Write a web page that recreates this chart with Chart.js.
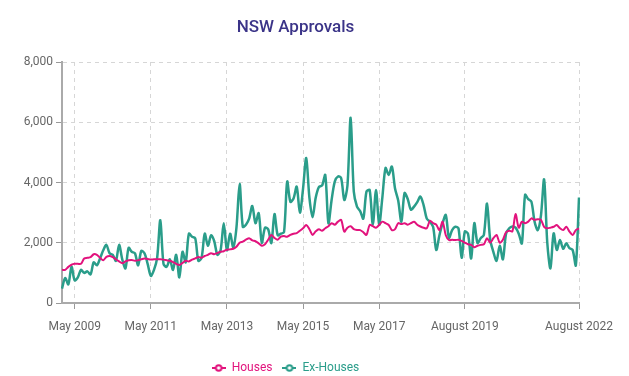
<!DOCTYPE html>
<html>
<head>
<meta charset="utf-8">
<title>NSW Approvals</title>
<script src="https://cdn.jsdelivr.net/npm/chart.js@4.4.1/dist/chart.umd.min.js"></script>
<style>
  html, body { margin: 0; padding: 0; background: #fff; }
</style>
</head>
<body>
<canvas id="approvalsChart" width="629" height="376"></canvas>
<script>
// monthly series, first point is January 2009
const startYear = 2009;
const monthNames = ['January', 'February', 'March', 'April', 'May', 'June',
    'July', 'August', 'September', 'October', 'November', 'December'];

// only these labels get a tick and a grid line
const tickLabels = ['May 2009', 'May 2011', 'May 2013', 'May 2015', 'May 2017', 'August 2019', 'August 2022'];

// one row per year (Jan..Dec)
const houses = [
    1100, 1100, 1200, 1270, 1300, 1300, 1300, 1480, 1500, 1520, 1620, 1600,
    1500, 1420, 1530, 1560, 1520, 1450, 1380, 1320, 1380, 1420, 1430, 1400,
    1420, 1450, 1480, 1460, 1440, 1450, 1450, 1450, 1440, 1420, 1400, 1360,
    1300, 1260, 1330, 1400, 1380, 1440, 1480, 1530, 1500, 1560, 1600, 1650,
    1620, 1660, 1700, 1720, 1770, 1780, 1800, 1870, 2000, 2040, 2100, 2150,
    2080, 2050, 1980, 1900, 1950, 2100, 2260, 2160, 2100, 2200, 2220, 2200,
    2260, 2300, 2320, 2400, 2480, 2590, 2450, 2260, 2380, 2450, 2400, 2480,
    2550, 2650, 2600, 2700, 2760, 2370, 2500, 2550, 2450, 2420, 2420, 2350,
    2260, 2590, 2550, 2500, 2590, 2700, 2650, 2590, 2420, 2450, 2650, 2620,
    2650, 2600, 2650, 2700, 2600, 2540, 2500, 2480, 2730, 2650, 2600, 2420,
    2700, 2250, 2090, 2100, 2090, 2100, 2060, 2000, 1950, 1930, 1850, 1900,
    1930, 1950, 2150, 2000, 2150, 2260, 2000, 2100, 2350, 2400, 2380, 2950,
    2500, 2700, 2650, 2700, 2810, 2760, 2780, 2760, 2530, 2480, 2500, 2530,
    2590, 2480, 2420, 2530, 2370, 2260, 2420, 2480
];

const exHouses = [
    480, 830, 620, 1200, 750, 850, 1100, 1000, 1050, 950, 1350, 1250,
    1480, 1750, 1930, 1650, 1600, 1400, 1930, 1450, 1150, 1830, 1700, 1650,
    1250, 1730, 1650, 1300, 900, 1100, 1500, 2750, 1300, 1200, 1450, 1100,
    1600, 850, 1700, 1350, 2300, 2200, 2150, 1400, 1500, 2300, 1900, 2250,
    2050, 1600, 1750, 2650, 1750, 2300, 1850, 2500, 3950, 2530, 2600, 2800,
    3220, 2650, 2980, 2000, 2500, 2450, 1990, 2950, 2250, 2300, 2350, 4030,
    3360, 3470, 3860, 3000, 3800, 4810, 3500, 2850, 3500, 3850, 3900, 4250,
    2650, 3420, 4030, 4200, 4150, 3420, 3900, 6150, 3700, 3200, 3050, 2800,
    3700, 3750, 2600, 3750, 2600, 3500, 4480, 4250, 4530, 3800, 3400, 2700,
    3650, 3450, 3100, 3200, 3350, 3530, 3250, 2800, 2700, 2530, 1760, 2250,
    2650, 2920, 2160, 2420, 2530, 2480, 1500, 2370, 2300, 1480, 2650, 1990,
    2150, 2260, 3300, 2100, 1700, 1400, 1900, 1450, 2300, 2480, 2540, 2500,
    2300, 1980, 3590, 3450, 3360, 2700, 2420, 2900, 4100, 2000, 1150, 2310,
    1760, 2090, 1800, 1980, 1820, 1760, 1250, 3500
];

const housesColor = '#e2137d';
const exHousesColor = '#2a9d8a';

const labels = houses.map((v, i) => monthNames[i % 12] + ' ' + (startYear + Math.floor(i / 12)));
const isTick = index => tickLabels.includes(labels[index]);

Chart.defaults.font.family = 'Roboto, "Open Sans", sans-serif';
Chart.defaults.font.size = 12;

// little "line with a hollow dot" used as legend marker
function legendMarker(color) {
    const c = document.createElement('canvas');
    c.width = 14;
    c.height = 10;
    const g = c.getContext('2d');
    g.strokeStyle = color;
    g.lineWidth = 2;
    g.beginPath();
    g.moveTo(0, 5);
    g.lineTo(14, 5);
    g.stroke();
    g.fillStyle = '#fff';
    g.beginPath();
    g.arc(7, 5, 2.8, 0, Math.PI * 2);
    g.fill();
    g.stroke();
    return c;
}

// title and legend sit a bit off the plot centre in the original
const nudge = {
    id: 'nudge',
    afterLayout(chart) {
        chart.titleBlock.left += 6;
        chart.titleBlock.right += 6;
        chart.legend.left -= 4;
        chart.legend.right -= 4;
        chart.legend.top += 8;
        chart.legend.bottom += 8;
    }
};

const ctx = document.getElementById('approvalsChart').getContext('2d');

new Chart(ctx, {
    type: 'line',
    data: {
        labels: labels,
        datasets: [{
            label: 'Houses',
            data: houses,
            borderColor: housesColor,
            backgroundColor: housesColor,
            borderWidth: 2,
            pointRadius: 0,
            tension: 0.3,
            fill: false
        }, {
            label: 'Ex-Houses',
            data: exHouses,
            borderColor: exHousesColor,
            backgroundColor: exHousesColor,
            borderWidth: 2.5,
            pointRadius: 0,
            tension: 0.3,
            fill: false
        }]
    },
    options: {
        responsive: false,
        animation: false,
        layout: {
            padding: { left: 0, right: 50, top: 0, bottom: 0 }
        },
        plugins: {
            title: {
                display: true,
                text: 'NSW Approvals',
                color: '#3b3488',
                font: { size: 17, weight: '500' },
                padding: { top: 18, bottom: 23.6 }
            },
            legend: {
                position: 'bottom',
                labels: {
                    usePointStyle: true,
                    pointStyleWidth: 14,
                    padding: 10,
                    font: { size: 12 },
                    generateLabels(chart) {
                        const items = Chart.defaults.plugins.legend.labels.generateLabels(chart);
                        items.forEach(item => {
                            const color = chart.data.datasets[item.datasetIndex].borderColor;
                            item.pointStyle = legendMarker(color);
                            item.fontColor = color;
                        });
                        return items;
                    }
                }
            },
            tooltip: { enabled: false }
        },
        scales: {
            x: {
                ticks: {
                    autoSkip: false,
                    maxRotation: 0,
                    minRotation: 0,
                    padding: 11,
                    color: '#666',
                    callback: (value, index) => isTick(index) ? labels[index] : ''
                },
                grid: {
                    color: c => isTick(c.index) ? '#d6d6d6' : 'rgba(0,0,0,0)',
                    tickColor: c => isTick(c.index) ? '#999' : 'rgba(0,0,0,0)',
                    tickLength: 6
                },
                border: { color: '#aaa', width: 2, dash: [4, 4] },
                afterFit(scale) {
                    scale.paddingLeft = 0;
                    scale.paddingRight = 0;
                    scale.height = 41;
                }
            },
            y: {
                min: 0,
                max: 8000,
                ticks: {
                    stepSize: 2000,
                    padding: 3,
                    color: '#666'
                },
                grid: {
                    color: '#d6d6d6',
                    tickColor: '#999',
                    tickLength: 6
                },
                border: { color: '#aaa', width: 2, dash: [4, 4] },
                afterFit(scale) {
                    scale.width = 62;
                }
            }
        }
    },
    plugins: [nudge]
});
</script>
</body>
</html>
